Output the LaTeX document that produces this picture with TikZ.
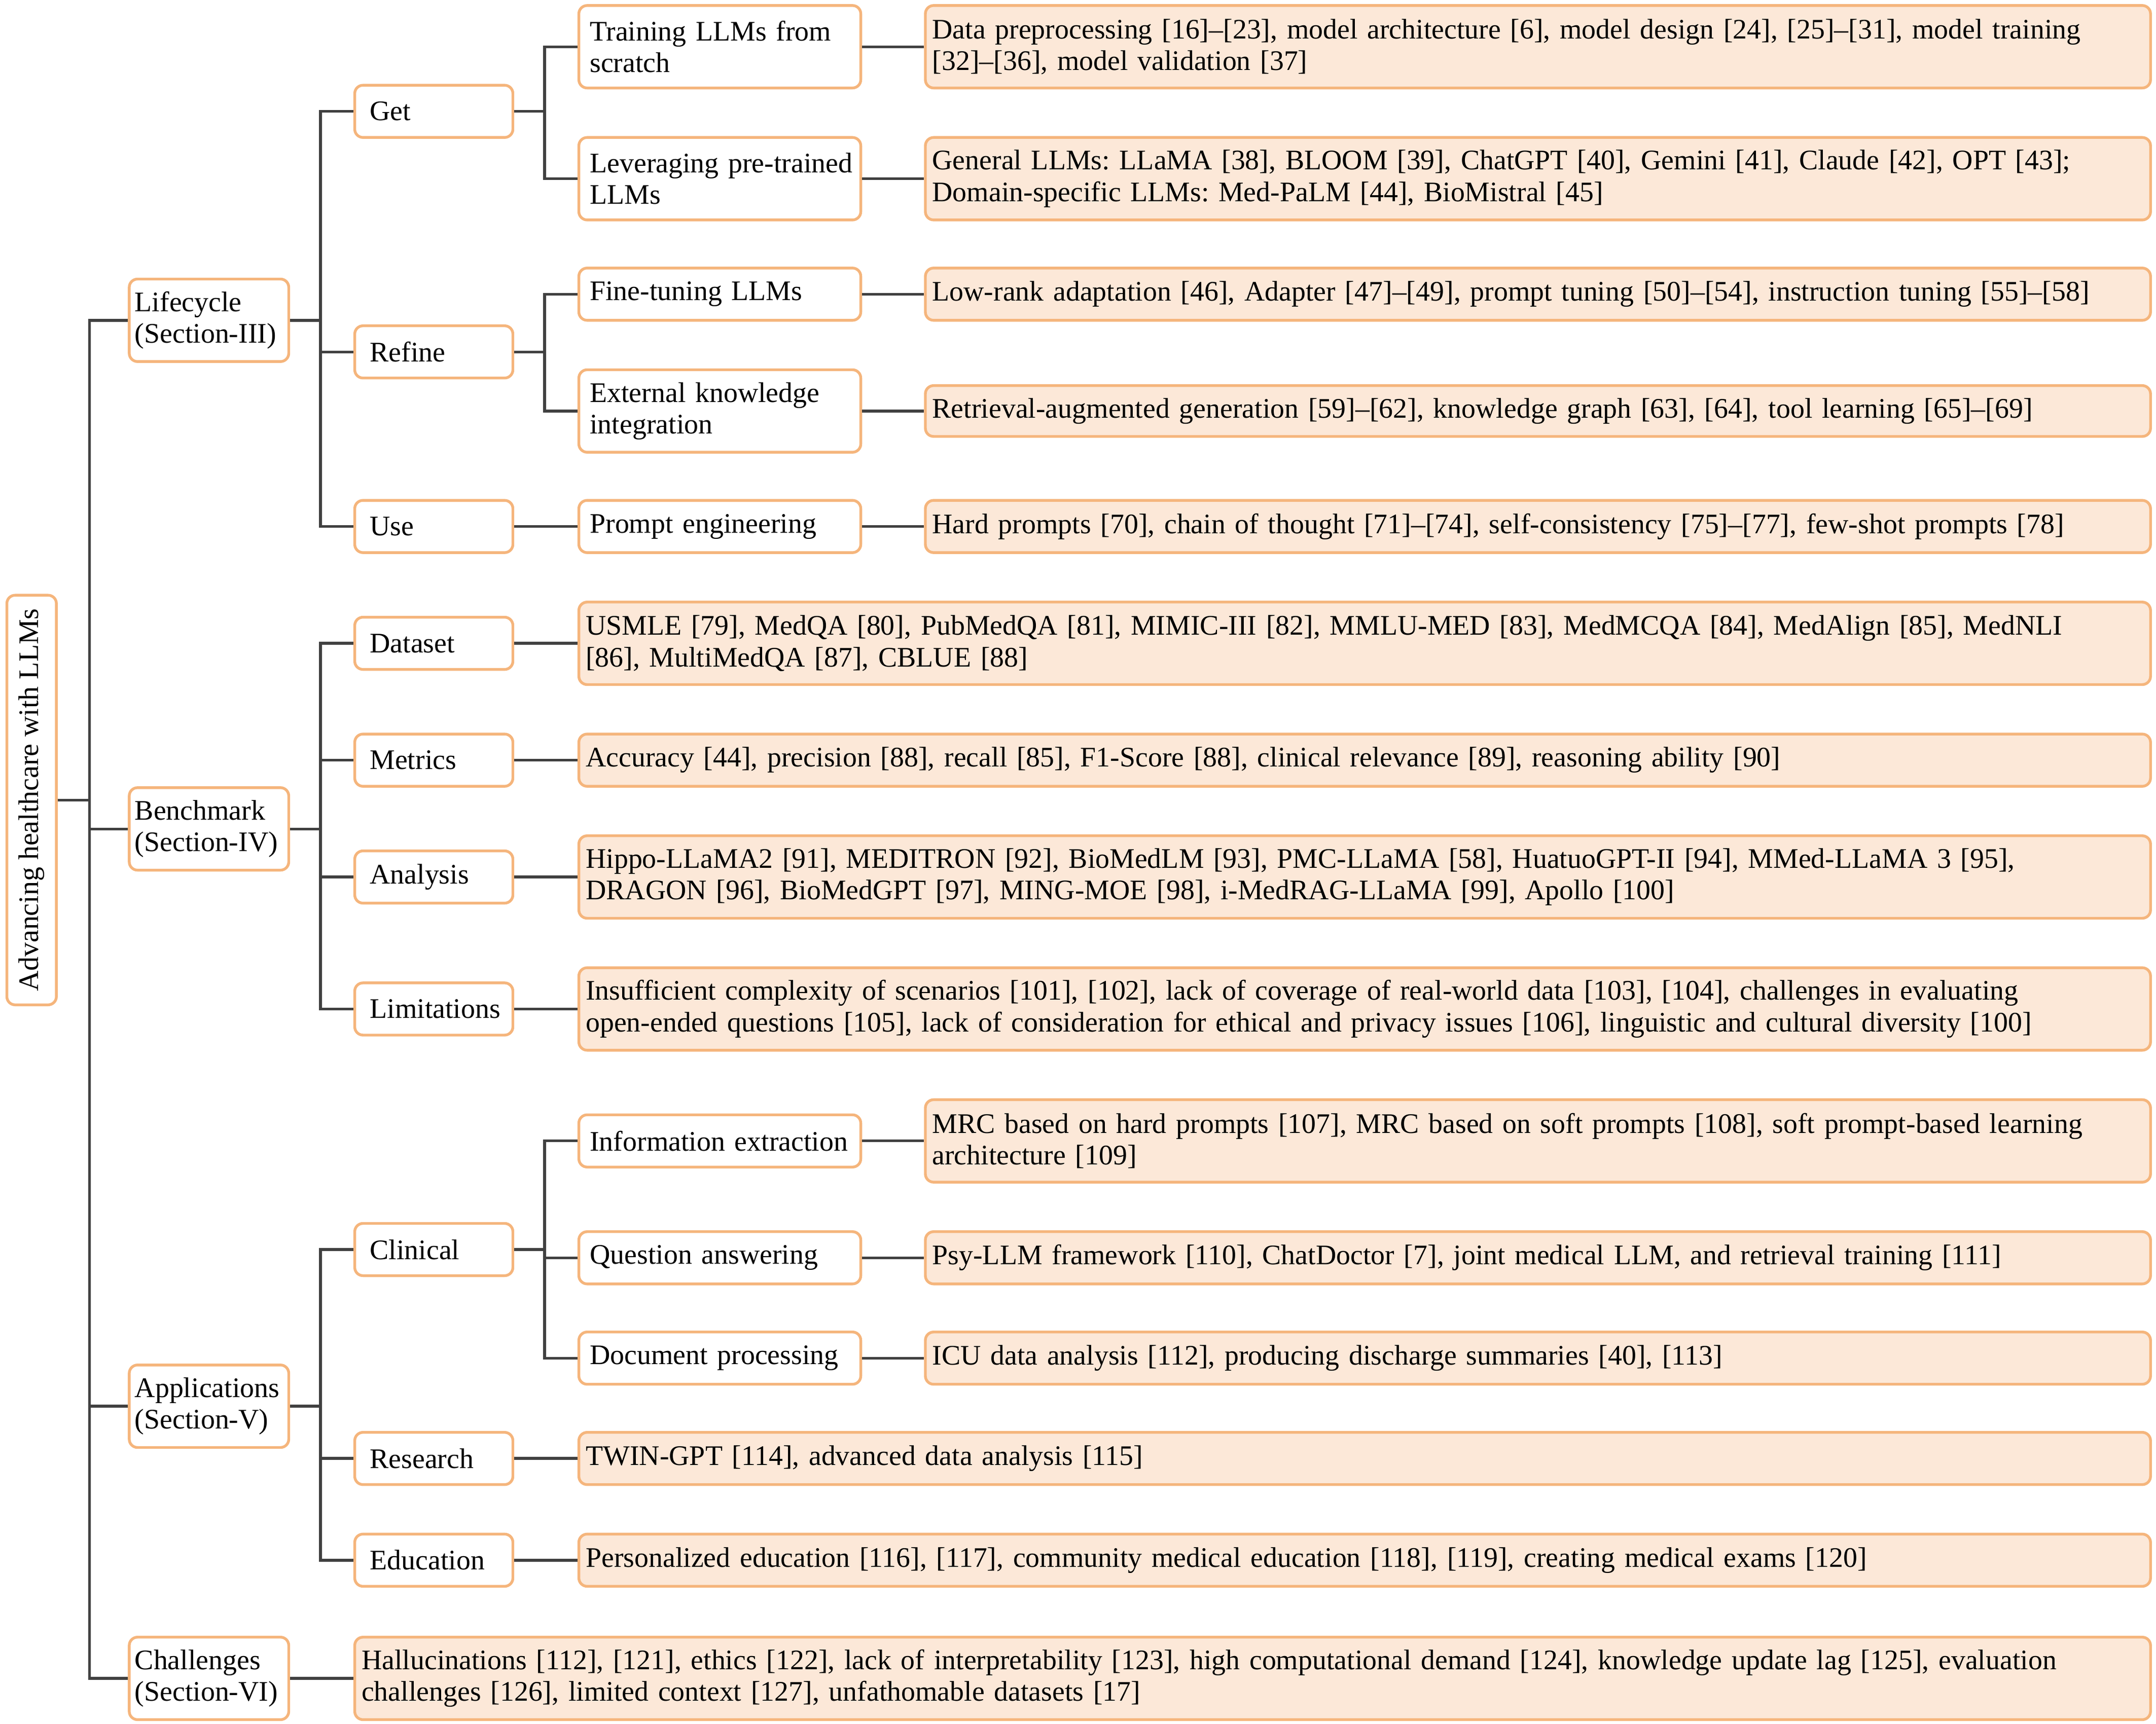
\documentclass[tikz,border=0pt]{standalone}
\usepackage{fontspec}
\setmainfont{Liberation Serif}
\definecolor{bord}{HTML}{F5B57C}
\definecolor{leafc}{HTML}{FCE8D8}
\definecolor{linec}{HTML}{404040}
\newcommand{\fsz}{\fontsize{20.6}{23}\selectfont\frenchspacing}
\tikzset{
  base/.style={draw=bord, line width=2pt, rounded corners=6pt, inner ysep=0pt, align=left, anchor=west, font=\fsz, text=black},
  lone/.style={base, fill=white, inner xsep=4pt},
  ltwo/.style={base, fill=white, inner xsep=11pt, text width=93pt, minimum height=38pt},
  lthree/.style={base, fill=white, inner xsep=8pt, text width=189pt},
  leaf/.style={base, fill=leafc, inner xsep=5pt},
  conn/.style={draw=linec, line width=2pt}
}
\begin{document}
\begin{tikzpicture}[x=1pt, y=-1pt]
\useasboundingbox (0,0) rectangle (1568,1254);
% trunk coordinates
\coordinate (t0) at (65,0);
\coordinate (t1) at (233,0);
\coordinate (t2) at (396,0);
% root
\node[base, fill=white, rotate=90, anchor=center, align=center, minimum width=298pt, minimum height=36pt, inner xsep=4pt] (root) at (23,582) {Advancing healthcare with LLMs};
% level 1
\node[lone, text width=108pt, minimum height=60pt] (lc) at (93,233) {Lifecycle\\(Section-III)};
\node[lone, text width=108pt, minimum height=60pt] (bm) at (93,603) {Benchmark\\(Section-IV)};
\node[lone, text width=108pt, minimum height=60pt] (ap) at (93,1023) {Applications\\(Section-V)};
\node[lone, text width=108pt, minimum height=60pt] (chl) at (93,1221) {Challenges\\(Section-VI)};
% level 2
\node[ltwo] (get) at (257,81) {Get};
\node[ltwo] (ref) at (257,256) {Refine};
\node[ltwo] (use) at (257,383) {Use};
\node[ltwo] (ds) at (257,468) {Dataset};
\node[ltwo] (met) at (257,553) {Metrics};
\node[ltwo] (ana) at (257,638) {Analysis};
\node[ltwo] (lim) at (257,734) {\mbox{Limitations}};
\node[ltwo] (cli) at (257,909) {Clinical};
\node[ltwo] (res) at (257,1061) {Research};
\node[ltwo] (edu) at (257,1135) {Education};
% level 3
\node[lthree, minimum height=60pt] (tr) at (420,34) {Training LLMs from\\scratch};
\node[lthree, minimum height=60pt] (lev) at (420,130) {\mbox{Leveraging pre-trained}\\LLMs};
\node[lthree, minimum height=38pt] (ft) at (420,214) {Fine-tuning LLMs};
\node[lthree, minimum height=60pt] (ext) at (420,299) {External knowledge\\integration};
\node[lthree, minimum height=38pt] (pe) at (420,383) {Prompt engineering};
\node[lthree, minimum height=38pt] (ie) at (420,830) {\mbox{Information extraction}};
\node[lthree, minimum height=38pt] (qa) at (420,915) {Question answering};
\node[lthree, minimum height=38pt] (dp) at (420,988) {\mbox{Document processing}};
% leaves (level 4)
\node[leaf, text width=881pt, minimum height=60pt] (trL) at (672,34) {Data preprocessing [16]–[23], model architecture [6], model design [24], [25]–[31], model training\\\relax [32]–[36], model validation [37]};
\node[leaf, text width=881pt, minimum height=60pt] (levL) at (672,130) {General LLMs: LLaMA [38], BLOOM [39], ChatGPT [40], Gemini [41], Claude [42], OPT [43];\\Domain-specific LLMs: Med-PaLM [44], BioMistral [45]};
\node[leaf, text width=881pt, minimum height=38pt] (ftL) at (672,214) {Low-rank adaptation [46], Adapter [47]–[49], prompt tuning [50]–[54], instruction tuning [55]–[58]};
\node[leaf, text width=881pt, minimum height=37pt] (extL) at (672,299) {Retrieval-augmented generation [59]–[62], knowledge graph [63], [64], tool learning [65]–[69]};
\node[leaf, text width=881pt, minimum height=38pt] (peL) at (672,383) {Hard prompts [70], chain of thought [71]–[74], self-consistency [75]–[77], few-shot prompts [78]};
\node[leaf, text width=881pt, minimum height=60pt] (ieL) at (672,830) {MRC based on hard prompts [107], MRC based on soft prompts [108], soft prompt-based learning\\architecture [109]};
\node[leaf, text width=881pt, minimum height=38pt] (qaL) at (672,915) {Psy-LLM framework [110], ChatDoctor [7], joint medical LLM, and retrieval training [111]};
\node[leaf, text width=881pt, minimum height=38pt] (dpL) at (672,988) {ICU data analysis [112], producing discharge summaries [40], [113]};
% benchmark / application leaves
\node[leaf, text width=1133pt, minimum height=60pt] (dsL) at (420,468) {USMLE [79], MedQA [80], PubMedQA [81], MIMIC-III [82], MMLU-MED [83], MedMCQA [84], MedAlign [85], MedNLI\\\relax [86], MultiMedQA [87], CBLUE [88]};
\node[leaf, text width=1133pt, minimum height=38pt] (metL) at (420,553) {Accuracy [44], precision [88], recall [85], F1-Score [88], clinical relevance [89], reasoning ability [90]};
\node[leaf, text width=1133pt, minimum height=60pt] (anaL) at (420,638) {Hippo-LLaMA2 [91], MEDITRON [92], BioMedLM [93], PMC-LLaMA [58], HuatuoGPT-II [94], MMed-LLaMA 3 [95],\\DRAGON [96], BioMedGPT [97], MING-MOE [98], i-MedRAG-LLaMA [99], Apollo [100]};
\node[leaf, text width=1133pt, minimum height=60pt] (limL) at (420,734) {Insufficient complexity of scenarios [101], [102], lack of coverage of real-world data [103], [104], challenges in evaluating\\open-ended questions [105], lack of consideration for ethical and privacy issues [106], linguistic and cultural diversity [100]};
\node[leaf, text width=1133pt, minimum height=38pt] (resL) at (420,1061) {TWIN-GPT [114], advanced data analysis [115]};
\node[leaf, text width=1133pt, minimum height=38pt] (eduL) at (420,1135) {Personalized education [116], [117], community medical education [118], [119], creating medical exams [120]};
\node[leaf, text width=1296pt, minimum height=60pt] (chlL) at (257,1221) {Hallucinations [112], [121], ethics [122], lack of interpretability [123], high computational demand [124], knowledge update lag [125], evaluation\\challenges [126], limited context [127], unfathomable datasets [17]};
% connectors: root -> level 1
\foreach \c in {lc,bm,ap,chl} \draw[conn] (root.south) -- (root.south -| t0) |- (\c.west);
% level 1 -> level 2
\foreach \p/\c in {lc/get,lc/ref,lc/use,bm/ds,bm/met,bm/ana,bm/lim,ap/cli,ap/res,ap/edu}
  \draw[conn] (\p.east) -- (\p.east -| t1) |- (\c.west);
% level 2 -> level 3
\foreach \p/\c in {get/tr,get/lev,ref/ft,ref/ext,cli/ie,cli/qa,cli/dp}
  \draw[conn] (\p.east) -- (\p.east -| t2) |- (\c.west);
\draw[conn] (use.east) -- (pe.west);
% straight connectors to leaves
\foreach \p/\c in {tr/trL,lev/levL,ft/ftL,ext/extL,pe/peL,ie/ieL,qa/qaL,dp/dpL,ds/dsL,met/metL,ana/anaL,lim/limL,res/resL,edu/eduL,chl/chlL}
  \draw[conn] (\p.east) -- (\c.west);
\end{tikzpicture}
\end{document}
